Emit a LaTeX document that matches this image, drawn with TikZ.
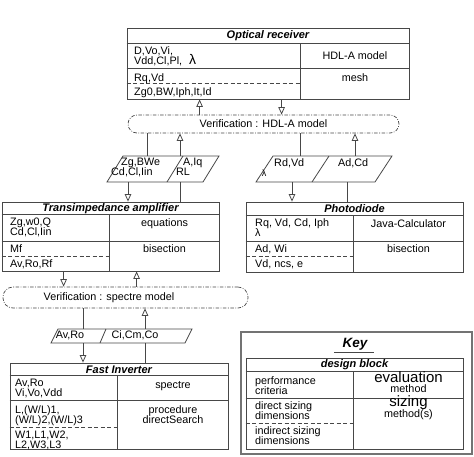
\documentclass[tikz,border=0pt]{standalone}
\usepackage{fontspec}
\setmainfont{Liberation Sans}
\usetikzlibrary{arrows.meta}

\newcommand{\cellsize}{\fontsize{10.8}{10.2}\selectfont}
\newcommand{\titlesize}{\fontsize{11}{12}\selectfont\bfseries\itshape}
\colorlet{linegray}{black!72}

\tikzset{
  frame/.style={draw=linegray, line width=0.8pt, inner sep=0pt},
  keyframe/.style={draw=black!55, line width=1.8pt, inner sep=0pt},
  sep/.style={draw=linegray, line width=0.8pt},
  dsep/.style={draw=linegray, line width=0.7pt, dash pattern=on 4pt off 2.5pt},
  verif/.style={draw=linegray, line width=0.7pt, rounded corners=9pt,
    dash pattern=on 3.5pt off 1.5pt on 0.8pt off 1.5pt, inner sep=0pt, font=\cellsize},
  cell/.style={anchor=north west, inner sep=0pt, align=left, font=\cellsize},
  mcell/.style={anchor=north, inner sep=0pt, align=center, font=\cellsize},
  btitle/.style={inner sep=0pt, font=\titlesize},
  link/.style={draw=linegray, line width=0.8pt},
  hollow/.style={link, -{Triangle[open, length=7.5pt, width=6.5pt]}},
}

\begin{document}
\begin{tikzpicture}[x=1pt,y=-1pt]
\useasboundingbox (0,0) rectangle (474,456);

% optical receiver
\node[frame, minimum width=282pt, minimum height=71pt] (optrec) at (268,63.5) {};
\draw[sep] (optrec.north west) +(0,16) -- +(282,16)
           (optrec.north west) +(0,41) -- +(282,41)
           (optrec.north west) +(174,16) -- +(174,71);
\draw[dsep] (optrec.north west) +(0,56) -- +(174,56);
\node[btitle] (ortitle) at (268,36) {Optical receiver};
\node[cell] (orperf) at (134,46) {D,Vo,Vi,\\Vdd,Cl,Pl,\hspace{7pt}\smash{\fontsize{14}{14}\selectfont λ}};
\node[mcell] (oreval) at (355,51) {HDL-A model};
\node[cell] (ordir) at (134,73) {Rq,Vd};
\node[mcell] (orsize) at (355,73) {mesh};
\node[cell] (orind) at (134,87) {Zg0,BW,Iph,It,Id};

% verification HDL-A
\node[verif, minimum width=271pt, minimum height=18pt] (hdla) at (263.5,124) {Verification : HDL-A model};

% transimpedance amplifier
\node[frame, minimum width=217pt, minimum height=69pt] (transimp) at (110.5,236.5) {};
\draw[sep] (transimp.north west) +(0,13) -- +(217,13)
           (transimp.north west) +(0,40) -- +(217,40)
           (transimp.north west) +(108,13) -- +(108,69);
\draw[dsep] (transimp.north west) +(0,55) -- +(108,55);
\node[btitle] (tatitle) at (110.5,208.5) {Transimpedance amplifier};
\node[cell] (taperf) at (10,218) {Zg,w0,Q\\Cd,Cl,Iin};
\node[mcell] (taeval) at (164.5,218) {equations};
\node[cell] (tadir) at (10,244) {Mf};
\node[mcell] (tasize) at (164.5,244) {bisection};
\node[cell] (taind) at (10,259) {Av,Ro,Rf};

% photodiode
\node[frame, minimum width=217pt, minimum height=70pt] (photo) at (354.5,237) {};
\draw[sep] (photo.north west) +(0,14) -- +(217,14)
           (photo.north west) +(0,40) -- +(217,40)
           (photo.north west) +(108,14) -- +(108,70);
\draw[dsep] (photo.north west) +(0,55) -- +(108,55);
\node[btitle] (pdtitle) at (354.5,209) {Photodiode};
\node[cell] (pdperf) at (255,218.5) {Rq, Vd, Cd, Iph\\λ};
\node[mcell] (pdeval) at (408.5,219) {Java-Calculator};
\node[cell] (pddir) at (255,244) {Ad, Wi};
\node[mcell] (pdsize) at (408.5,244) {bisection};
\node[cell] (pdind) at (255,259) {Vd, ncs, e};

% verification spectre
\node[verif, rounded corners=10pt, minimum width=245pt, minimum height=21pt] (spec) at (125.5,297.5) {};
\node[inner sep=0pt, font=\cellsize] (spectxt) at (109,297.5) {Verification : spectre model};

% fast inverter
\node[frame, minimum width=218pt, minimum height=86pt] (inverter) at (119,406) {};
\draw[sep] (inverter.north west) +(0,13) -- +(218,13)
           (inverter.north west) +(0,38) -- +(218,38)
           (inverter.north west) +(108,13) -- +(108,86);
\draw[dsep] (inverter.north west) +(0,65) -- +(108,65);
\node[btitle] (fititle) at (119,369.5) {Fast Inverter};
\node[cell] (fiperf) at (15,379) {Av,Ro\\Vi,Vo,Vdd};
\node[mcell] (fieval) at (173,381) {spectre};
\node[cell] (fidir) at (15,405) {L,(W/L)1,\\(W/L)2,(W/L)3};
\node[mcell] (fisize) at (173,405) {procedure\\directSearch};
\node[cell] (fiind) at (15,430.5) {W1,L1,W2,\\L2,W3,L3};

% key
\node[keyframe, minimum width=231pt, minimum height=122pt] (key) at (356.5,393) {};
\node[inner sep=0pt, font=\fontsize{13.5}{14}\selectfont\bfseries\itshape] (keytitle) at (355,344) {Key};
\draw[sep] ([xshift=-8pt,yshift=-2pt]keytitle.south west) -- ([xshift=6pt,yshift=-2pt]keytitle.south east);
\node[frame, minimum width=217pt, minimum height=91pt] (block) at (354.5,403.5) {};
\draw[sep] (block.north west) +(0,14) -- +(217,14)
           (block.north west) +(0,41) -- +(217,41)
           (block.north west) +(108,14) -- +(108,91);
\draw[dsep] (block.north west) +(0,66) -- +(108,66);
\node[btitle] (kbtitle) at (354.5,365) {design block};
\node[cell] (kperf) at (255,376) {performance\\criteria};
\node[inner sep=0pt, font=\fontsize{15}{15}\selectfont] (keval) at (408.5,377) {evaluation};
\node[inner sep=0pt, font=\cellsize] (kevalm) at (408.5,389) {method};
\node[cell] (kdir) at (255,401) {direct sizing\\dimensions};
\node[inner sep=0pt, font=\fontsize{15}{15}\selectfont] (ksize) at (408.5,403) {sizing};
\node[inner sep=0pt, font=\cellsize] (ksizem) at (408.5,415) {method(s)};
\node[cell] (kind) at (255,426) {indirect sizing\\dimensions};

% parameter sets
\path (123,156) coordinate (pa-tl) (219,156) coordinate (pa-tr)
      (203,182) coordinate (pa-br) (107,182) coordinate (pa-bl);
\draw[sep] (pa-tl) -- (pa-tr) -- (pa-br) -- (pa-bl) -- cycle;
\draw[sep] (183,156) -- (167,182);
\node[cell] (pa-down) at (111,158) {\hspace*{10pt}Zg,BWe\\Cd,Cl,Iin};
\node[cell] (pa-up) at (176,158) {\hspace*{7pt}A,Iq\\RL};

\path (273,156) coordinate (pb-tl) (392,156) coordinate (pb-tr)
      (375,182) coordinate (pb-br) (256,182) coordinate (pb-bl);
\draw[sep] (pb-tl) -- (pb-tr) -- (pb-br) -- (pb-bl) -- cycle;
\draw[sep] (329,156) -- (312,182);
\node[cell] (pb-down) at (274,158) {Rd,Vd};
\node[inner sep=0pt, font=\fontsize{9}{9}\selectfont] (pb-lambda) at (264,173) {λ};
\node[cell] (pb-up) at (338,158) {Ad,Cd};

\path (58,329) coordinate (pc-tl) (192,329) coordinate (pc-tr)
      (185,343) coordinate (pc-br) (51,343) coordinate (pc-bl);
\draw[sep] (pc-tl) -- (pc-tr) -- (pc-br) -- (pc-bl) -- cycle;
\draw[sep] (106,329) -- (100,343);
\node[inner sep=0pt, font=\cellsize] (pc-down) at (70,335.5) {Av,Ro};
\node[inner sep=0pt, font=\cellsize] (pc-up) at (135,335.5) {Ci,Cm,Co};

% connectors
\path (optrec.south west) +(73,0) coordinate (orb1) +(155,0) coordinate (orb2);
\draw[hollow] (orb1 |- hdla.north) -- (orb1);
\draw[hollow] (orb2) -- (orb2 |- hdla.north);

\path (147,156) coordinate (pa-in1) (180,156) coordinate (pa-out1)
      (128,182) coordinate (pa-in2) (180,182) coordinate (pa-out2);
\draw[link] (pa-in1 |- hdla.south) -- (pa-in1);
\draw[hollow] (pa-out1) -- (pa-out1 |- hdla.south);
\draw[hollow] (pa-in2) -- (pa-in2 |- transimp.north);
\draw[link] (pa-out2) -- (pa-out2 |- transimp.north);

\path (300,156) coordinate (pb-in1) (355,156) coordinate (pb-out1)
      (292,182) coordinate (pb-in2) (347,182) coordinate (pb-out2);
\draw[link] (pb-in1 |- hdla.south) -- (pb-in1);
\draw[hollow] (pb-out1) -- (pb-out1 |- hdla.south);
\draw[hollow] (pb-in2) -- (pb-in2 |- photo.north);
\draw[link] (pb-out2) -- (pb-out2 |- photo.north);

\path (transimp.south west) +(62,0) coordinate (tab1) +(135,0) coordinate (tab2);
\draw[hollow] (tab1) -- (tab1 |- spec.north);
\draw[hollow] (tab2 |- spec.north) -- (tab2);

\path (83,329) coordinate (pc-in1) (145,329) coordinate (pc-out1)
      (83,343) coordinate (pc-in2) (145,343) coordinate (pc-out2);
\draw[link] (pc-in1 |- spec.south) -- (pc-in1);
\draw[hollow] (pc-out1) -- (pc-out1 |- spec.south);
\draw[hollow] (pc-in2) -- (pc-in2 |- inverter.north);
\draw[link] (pc-out2) -- (pc-out2 |- inverter.north);

\end{tikzpicture}
\end{document}
